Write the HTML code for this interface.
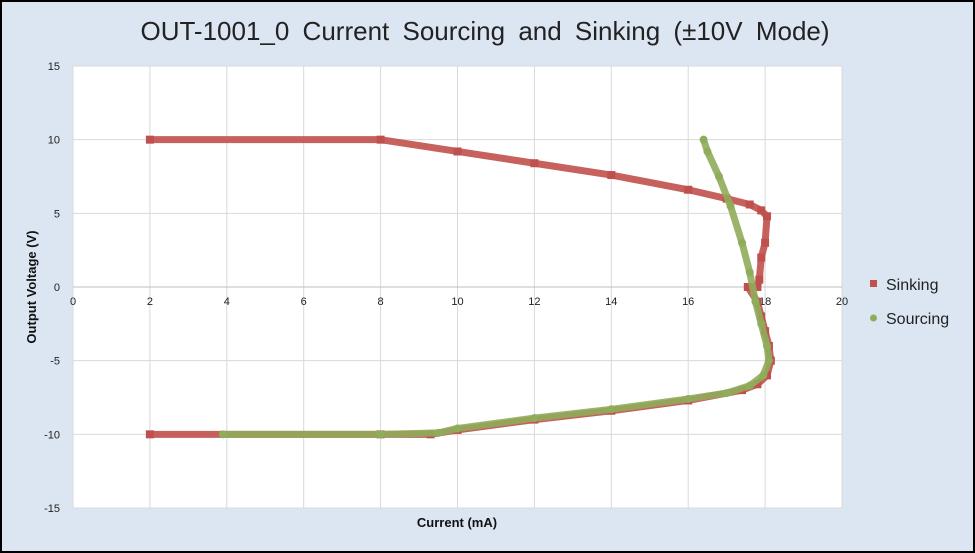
<!DOCTYPE html>
<html><head><meta charset="utf-8"><style>
body{margin:0;background:#000;}
svg{display:block;font-family:"Liberation Sans",sans-serif;}
</style></head><body>
<svg id="c" width="975" height="553">
<rect x="2" y="2" width="971" height="549" fill="#dce6f2"/>
<rect x="73" y="66" width="769" height="442" fill="#fff"/>
<text x="485" y="40" text-anchor="middle" font-size="26" word-spacing="6" fill="#222">OUT-1001_0 Current Sourcing and Sinking (±10V Mode)</text>
<g id="grid"></g><g id="ticks"></g><g id="series"></g>
<text x="457" y="527" text-anchor="middle" font-size="13" font-weight="bold" fill="#111">Current (mA)</text>
<text transform="translate(36,287) rotate(-90)" text-anchor="middle" font-size="13" font-weight="bold" fill="#111">Output Voltage (V)</text>
<g>
<g><rect x="870" y="280" width="7" height="7" fill="#c0504d"/><text x="886" y="290" font-size="16" fill="#222">Sinking</text></g>
<g><circle cx="873.5" cy="318" r="3.5" fill="#8fac5a"/><text x="886" y="324" font-size="16" fill="#222">Sourcing</text></g>
</g>
</svg>
<script>
const xTicks=[0,2,4,6,8,10,12,14,16,18,20];
const yTicks=[15,10,5,0,-5,-10,-15];
const sinkX=[2,8,10,12,14,16,17,17.6,17.9,18.05,18.0,17.9,17.85,17.8,17.55,17.8,17.9,18.0,18.1,18.15,18.05,17.8,17.4,16,14,12,10,9.3,8,2];
const sinkY=[10,10,9.2,8.4,7.6,6.6,6.0,5.6,5.2,4.8,3,2,0.5,0,0,-1,-2,-3,-4,-5,-6,-6.6,-7,-7.7,-8.4,-9,-9.7,-10,-10,-10];
const srcX=[16.4,16.5,16.8,17.1,17.4,17.6,17.75,17.9,18.05,18.1,17.95,17.6,17,16,14,12,10,9.5,8,3.9];
const srcY=[10,9.2,7.5,5.5,3,1,-1,-2.5,-4,-5,-6,-6.7,-7.2,-7.6,-8.3,-8.9,-9.6,-9.9,-10,-10];
const X0=73,X1=842,Y0=508,Y1=66;
const sx=v=>X0+(v-0)/(20-0)*(X1-X0);
const sy=v=>Y0-(v+15)/30*(Y0-Y1);
const NS="http://www.w3.org/2000/svg";
function mk(t,a,p){const e=document.createElementNS(NS,t);for(const k in a)e.setAttribute(k,a[k]);p.appendChild(e);return e;}
const grid=document.getElementById('grid'),ticks=document.getElementById('ticks'),ser=document.getElementById('series');
xTicks.forEach(v=>{
 const l=mk('line',{x1:sx(v),x2:sx(v),y1:Y1,y2:Y0,stroke:'#d9d9d9'},grid);
 
 
 const t=mk('text',{x:sx(v),y:sy(0)+18,'text-anchor':'middle','font-size':11,fill:'#222'},ticks);
 t.textContent=v;
 
 
});
yTicks.forEach(v=>{
 const l=mk('line',{x1:X0,x2:X1,y1:sy(v),y2:sy(v),stroke:v===0?'#bfbfbf':'#d9d9d9'},grid);
 
 
 const t=mk('text',{x:X0-13,y:sy(v)+4,'text-anchor':'end','font-size':11,fill:'#222'},ticks);
 t.textContent=v;
 
 
});
function draw(xs,ys,color,name,sq){
 const g=mk('g',{},ser);
 
 
 const pts=xs.map((x,i)=>sx(x)+','+sy(ys[i])).join(' ');
 mk('polyline',{points:pts,fill:'none',stroke:color,'stroke-width':7,'stroke-linejoin':'round','stroke-linecap':sq?'square':'round','stroke-opacity':0.9},g);
 xs.forEach((x,i)=>{
  const m=sq?mk('rect',{x:sx(x)-4,y:sy(ys[i])-4,width:8,height:8,fill:color},g):mk('circle',{cx:sx(x),cy:sy(ys[i]),r:4,fill:color},g);
  
  
 });
}
draw(sinkX,sinkY,'#c0504d','sinking-series',true);
draw(srcX,srcY,'#8fac5a','sourcing-series',false);
</script>
</body></html>
